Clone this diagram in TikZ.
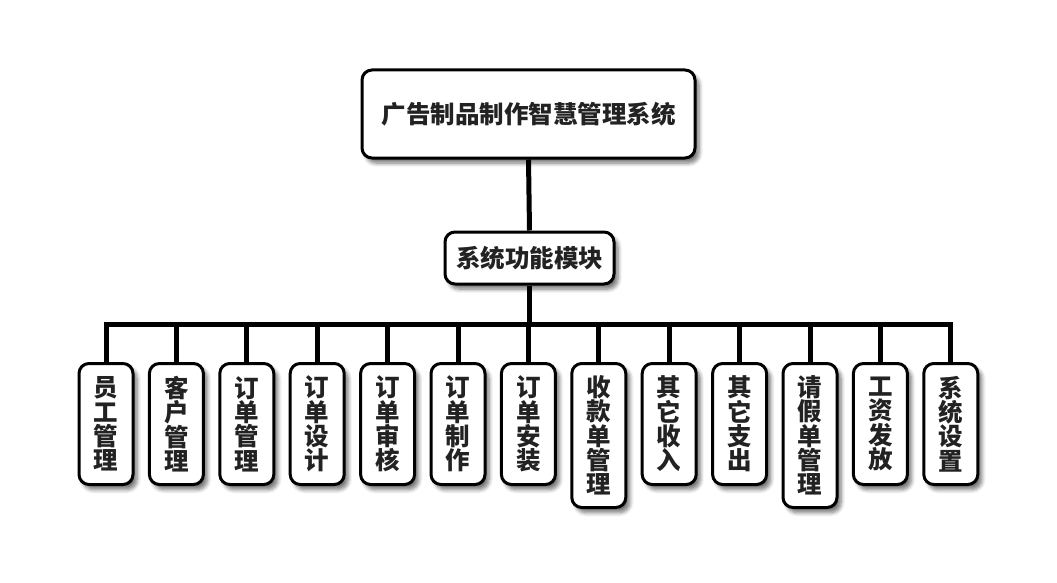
\documentclass[tikz,border=0pt]{standalone}
\usepackage{fontspec}
\setmainfont{Noto Sans CJK SC}
\usetikzlibrary{shadows.blur}
\definecolor{txt}{HTML}{222222}
\tikzset{
  box/.style={draw=black, line width=3pt, fill=white, rounded corners=10pt,
    text=txt, font=\fontsize{24.5}{24.3}\selectfont\bfseries, align=center, inner sep=0pt,
    blur shadow={shadow xshift=4pt, shadow yshift=-5pt, shadow blur steps=6, shadow opacity=55, shadow blur radius=4pt}},
  leaf/.style={box, minimum width=54pt, anchor=north},
  conn/.style={line width=5pt, draw=black, line join=miter}
}
\newcommand\leafat[3]{\node[leaf, minimum height=#2] (c#1) at ({106+70.4*#1},-362) {#3};}
\begin{document}
\begin{tikzpicture}[x=1pt,y=1pt]
\useasboundingbox (0,0) rectangle (1057,-583);
\node[box, minimum width=333pt, minimum height=88pt] (root) at (528.5,-114) {广告制品制作智慧管理系统};
\node[box, minimum width=169pt, minimum height=52pt] (mid) at (529.5,-258) {系统功能模块};
\draw[conn] (root.south) -- (mid.north);
\path (mid.south) -- ++(0,-39) coordinate (bus);
\leafat{0}{121pt}{员\\工\\管\\理}
\leafat{1}{121pt}{客\\户\\管\\理}
\leafat{2}{121pt}{订\\单\\管\\理}
\leafat{3}{121pt}{订\\单\\设\\计}
\leafat{4}{121pt}{订\\单\\审\\核}
\leafat{5}{121pt}{订\\单\\制\\作}
\leafat{6}{121pt}{订\\单\\安\\装}
\leafat{7}{144pt}{收\\款\\单\\管\\理}
\leafat{8}{121pt}{其\\它\\收\\入}
\leafat{9}{121pt}{其\\它\\支\\出}
\leafat{10}{144pt}{请\\假\\单\\管\\理}
\leafat{11}{121pt}{工\\资\\发\\放}
\leafat{12}{121pt}{系\\统\\设\\置}
\draw[conn] (mid.south) -- (bus);
\foreach \k in {0,...,12}{
  \draw[conn] (bus) -| (c\k.north);
}
\end{tikzpicture}
\end{document}
